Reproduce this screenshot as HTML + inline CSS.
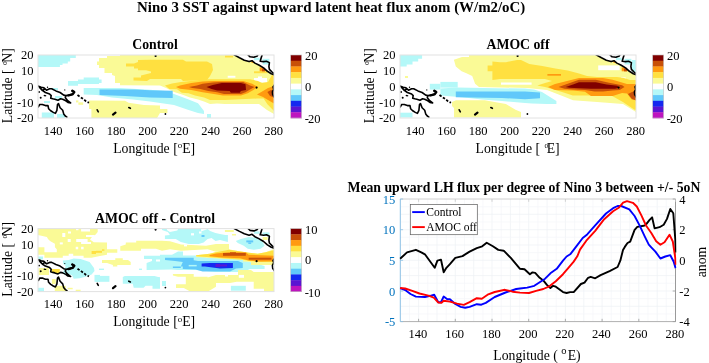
<!DOCTYPE html><html><head><meta charset="utf-8"><title>Nino 3 SST against upward latent heat flux</title><style>html,body{margin:0;padding:0;background:#fff}svg{display:block}text{font-family:'Liberation Serif',serif}</style></head><body><svg width="709" height="363" viewBox="0 0 709 363"><rect width="709" height="363" fill="#fff"/><text x="331.2" y="12.3" font-size="14.90" text-anchor="middle" font-weight="bold" fill="#000" >Nino 3 SST against upward latent heat flux anom (W/m2/oC)</text><g><svg x="38.0" y="55.0" width="236" height="63" viewBox="38.0 55.0 236 63" overflow="hidden"><polygon points="120.0,55.0 234.0,55.0 240.0,58.0 249.0,61.6 254.0,60.7 260.0,65.0 268.0,71.3 274.0,75.0 274.0,114.0 267.0,110.0 259.0,104.0 225.0,104.0 217.0,103.5 210.0,104.0 204.0,101.5 198.0,99.5 190.0,97.5 182.0,94.5 174.0,92.0 166.0,88.0 160.0,85.5 120.0,85.3 120.0,83.0 115.0,83.0 115.0,76.0 112.0,75.0 112.0,73.0 104.5,73.0 104.5,68.0 99.0,68.0 99.0,65.0 97.0,65.0 97.0,61.5 99.0,61.5 99.0,58.0 107.0,58.0 107.0,56.0 120.0,56.0" fill="#FAFA96"/><polygon points="89.0,100.4 125.0,100.8 128.6,102.8 144.0,105.0 160.0,105.5 160.0,109.0 167.4,109.0 167.4,113.0 160.0,113.0 157.0,118.0 91.4,118.0 91.4,109.0 89.0,109.0" fill="#FAFA96"/><rect x="76.0" y="100.4" width="2.4" height="2.0" fill="#FAFA96"/><rect x="78.4" y="102.4" width="4.8" height="2.4" fill="#FAFA96"/><rect x="227.7" y="75.8" width="7.7" height="1.9" fill="#fff"/><rect x="254.0" y="78.0" width="13.0" height="4.5" fill="#fff"/><rect x="258.0" y="76.5" width="4.0" height="1.5" fill="#fff"/><polygon points="126.0,63.5 134.0,63.5 138.0,62.0 138.0,60.0 150.0,59.7 183.0,59.7 186.0,61.6 207.0,61.6 212.0,64.0 213.0,70.0 210.0,76.0 207.0,80.0 183.0,81.0 181.0,79.0 150.0,79.0 147.0,81.0 133.5,80.5 133.5,77.5 141.0,77.5 141.0,75.5 147.0,74.0 151.0,73.0 151.0,71.5 146.0,70.3 138.0,70.3 138.0,68.4 134.0,68.4 134.0,66.5 126.0,66.5" fill="#FFE040"/><polygon points="165.0,85.5 172.0,83.5 181.0,82.0 195.0,80.5 205.0,79.3 250.0,79.3 258.0,81.0 262.0,83.0 268.0,82.0 272.0,75.0 274.0,75.0 274.0,111.0 267.4,104.3 263.6,98.5 257.0,98.5 225.0,100.0 210.0,100.0 204.0,97.5 195.0,95.6 188.6,93.2 181.8,92.7 177.0,89.3 169.3,88.9" fill="#FFE040"/><polygon points="176.0,87.0 180.0,85.4 191.3,83.1 202.6,81.4 213.9,80.9 243.2,80.9 252.2,83.7 257.9,87.1 253.4,89.9 247.7,93.3 240.9,95.6 222.9,95.6 213.9,93.9 202.6,92.2 191.3,89.9 180.0,88.8" fill="#FF9A10"/><polygon points="189.0,86.9 196.9,85.4 202.6,83.7 212.7,82.6 221.8,82.0 243.2,82.0 250.0,85.4 254.5,87.1 250.0,89.6 245.5,92.2 240.9,93.9 224.0,93.9 217.2,92.2 208.2,91.0 200.3,89.1 192.4,88.0" fill="#C85008"/><polygon points="206.5,87.1 212.7,85.1 221.8,83.1 240.9,83.1 245.5,84.3 246.0,89.9 240.9,91.0 239.8,92.7 230.8,92.7 229.7,91.0 217.2,90.5 211.6,89.1" fill="#800000"/><polygon points="257.0,94.6 263.0,91.0 268.0,88.0 274.0,86.0 274.0,103.5 268.0,100.0 263.0,97.0" fill="#FF9A10"/><polygon points="267.4,92.0 271.0,90.0 274.0,90.0 274.0,97.5 270.0,96.0" fill="#C85008"/><rect x="251.5" y="60.7" width="2.5" height="2.3" fill="#FF9A10"/><rect x="254.0" y="71.3" width="13.4" height="1.9" fill="#FFE040"/><rect x="259.7" y="67.4" width="5.8" height="3.9" fill="#FF9A10"/><rect x="262.0" y="68.5" width="3.0" height="2.8" fill="#C85008"/><polygon points="234.0,55.0 234.2,54.9 239.5,57.8 244.3,60.2 249.1,61.6 252.0,60.7 254.9,63.1 258.8,65.0 263.6,67.9 267.4,71.3 271.3,73.7 274.2,74.7 274.0,55.0" fill="#fff"/><rect x="254.0" y="57.8" width="5.7" height="2.4" fill="#B4F8F8"/><rect x="262.6" y="58.8" width="6.8" height="5.7" fill="#B4F8F8"/><polygon points="38.0,55.0 75.8,55.0 75.8,58.0 70.2,58.0 70.2,61.6 67.8,61.6 67.8,63.6 62.5,63.6 62.5,65.0 59.9,65.0 59.9,67.0 38.0,67.0" fill="#B4F8F8"/><polygon points="68.0,81.0 78.0,81.0 78.0,79.5 83.7,79.5 83.7,77.5 99.0,77.5 99.0,79.5 101.6,79.5 101.6,83.0 99.0,83.0 99.0,84.0 83.7,84.0 78.0,84.0 78.0,85.8 68.0,85.8" fill="#B4F8F8"/><polygon points="83.7,88.0 120.0,87.9 150.0,89.8 165.0,91.0 174.0,94.0 188.6,99.5 198.0,103.3 204.0,111.0 204.0,114.0 198.0,113.0 188.6,110.0 174.0,105.0 150.0,101.4 133.0,99.5 112.0,97.5 97.0,95.0 83.7,94.6" fill="#B4F8F8"/><polygon points="99.5,89.6 135.0,89.6 150.0,90.3 172.7,90.8 172.7,98.0 150.0,97.5 125.0,96.0 99.5,95.0" fill="#60C8FA"/><rect x="225.0" y="55.5" width="8.0" height="2.0" fill="#FFE040"/><rect x="207.0" y="114.0" width="4.0" height="4.0" fill="#B4F8F8"/><rect x="41.8" y="112.5" width="12.2" height="5.5" fill="#B4F8F8"/><rect x="57.0" y="114.0" width="8.0" height="4.0" fill="#B4F8F8"/><rect x="52.0" y="88.0" width="6.0" height="2.0" fill="#B4F8F8"/><rect x="44.0" y="101.0" width="6.0" height="2.0" fill="#B4F8F8"/><rect x="55.0" y="96.0" width="7.0" height="2.5" fill="#B4F8F8"/><polyline points="38.6,86.2 41.2,87.2 43.9,87.8 46.5,90.2 49.6,88.8 51.7,88.8 55.9,90.9 60.1,92.5 63.7,95.1 65.8,95.6 69.5,95.1 72.6,94.0 74.2,91.9 72.1,90.9 74.2,91.9 72.6,94.0 69.5,95.3 65.8,95.8 65.3,97.7 67.4,100.3 70.6,102.9 67.9,102.4 65.8,100.8 62.7,99.3 60.6,98.8 58.0,100.3 54.8,99.3 52.8,98.8 50.7,98.2 51.2,95.6 49.6,94.0 45.4,92.5 42.3,90.4 40.7,88.8 38.6,86.2 42.3,90.4 44.4,89.3 43.9,87.8" fill="none" stroke="#000" stroke-width="1.6" stroke-linejoin="round" stroke-linecap="round"/><polyline points="38.3,106.9 39.7,104.5 42.3,104.5 45.4,105.6 48.0,105.6 48.6,108.7 50.7,110.8 53.3,112.4 55.4,113.4 56.9,110.3 57.5,104.5 58.5,103.5 60.1,107.7 62.7,110.3 63.7,113.9 65.3,116.0 66.9,117.1" fill="none" stroke="#000" stroke-width="1.6" stroke-linejoin="round" stroke-linecap="round"/><polyline points="234.2,54.9 239.5,57.8 244.3,60.2 249.1,61.6 252.0,60.7 254.9,63.1 258.8,65.0 263.6,67.9 267.4,71.3 271.3,73.7 274.2,74.7" fill="none" stroke="#000" stroke-width="1.6" stroke-linejoin="round" stroke-linecap="round"/><polyline points="248.1,54.9 250.1,56.8 253.9,57.3 257.3,55.9 257.8,54.9" fill="none" stroke="#000" stroke-width="1.6" stroke-linejoin="round" stroke-linecap="round"/><polyline points="262.1,54.9 261.2,57.8 260.2,61.2 263.6,61.6 266.5,61.2 269.4,62.6 268.9,66.5 269.4,69.4 272.3,72.3 274.2,73.7" fill="none" stroke="#000" stroke-width="1.6" stroke-linejoin="round" stroke-linecap="round"/><polyline points="274.4,85.0 273.0,86.9 273.7,89.3 272.4,91.8 272.7,94.6 274.4,97.3" fill="none" stroke="#000" stroke-width="1.6" stroke-linejoin="round" stroke-linecap="round"/><polyline points="77.5,95.1 80.4,97.1 83.3,99.0 86.1,101.4 89.0,102.8" fill="none" stroke="#000" stroke-width="1.8" stroke-linejoin="round" stroke-dasharray="2.5 1.6"/><polyline points="68.5,95.4 72.6,94.3 74.3,92.1 72.3,90.8" fill="none" stroke="#000" stroke-width="2.4" stroke-linejoin="round" stroke-linecap="round"/><circle cx="155.6" cy="56.0" r="1.1" fill="#000"/><circle cx="165.4" cy="114.0" r="0.9" fill="#000"/><circle cx="256.6" cy="87.6" r="1.1" fill="#000"/><circle cx="40.7" cy="97.7" r="1.0" fill="#000"/><circle cx="44.4" cy="95.6" r="0.8" fill="#000"/><circle cx="45.6" cy="95.8" r="0.7" fill="#000"/><circle cx="64.8" cy="89.9" r="0.6" fill="#000"/><circle cx="39.1" cy="92.0" r="0.9" fill="#000"/><circle cx="47.5" cy="87.2" r="0.7" fill="#000"/><polyline points="113.0,114.6 115.5,112.6" fill="none" stroke="#000" stroke-width="2.2" stroke-linejoin="round" stroke-linecap="round"/><polyline points="97.2,109.8 98.3,111.8" fill="none" stroke="#000" stroke-width="1.6" stroke-linejoin="round" stroke-linecap="round"/><polyline points="128.8,107.6 130.4,108.3" fill="none" stroke="#000" stroke-width="1.6" stroke-linejoin="round" stroke-linecap="round"/></svg><rect x="38.0" y="55.0" width="236.0" height="63.0" fill="none" stroke="#e2e2e2" stroke-width="1"/><text x="155.0" y="49.0" font-size="13.75" text-anchor="middle" font-weight="bold" fill="#000" >Control</text><text x="33.6" y="59.3" font-size="12.50" text-anchor="end" font-weight="normal" fill="#000" >20</text><text x="33.6" y="75.0" font-size="12.50" text-anchor="end" font-weight="normal" fill="#000" >10</text><text x="33.6" y="90.8" font-size="12.50" text-anchor="end" font-weight="normal" fill="#000" >0</text><text x="33.6" y="106.5" font-size="12.50" text-anchor="end" font-weight="normal" fill="#000" >-10</text><text x="33.6" y="122.3" font-size="12.50" text-anchor="end" font-weight="normal" fill="#000" >-20</text><text x="53.2" y="134.6" font-size="12.50" text-anchor="middle" font-weight="normal" fill="#000" >140</text><text x="84.7" y="134.6" font-size="12.50" text-anchor="middle" font-weight="normal" fill="#000" >160</text><text x="116.2" y="134.6" font-size="12.50" text-anchor="middle" font-weight="normal" fill="#000" >180</text><text x="147.6" y="134.6" font-size="12.50" text-anchor="middle" font-weight="normal" fill="#000" >200</text><text x="179.1" y="134.6" font-size="12.50" text-anchor="middle" font-weight="normal" fill="#000" >220</text><text x="210.6" y="134.6" font-size="12.50" text-anchor="middle" font-weight="normal" fill="#000" >240</text><text x="242.0" y="134.6" font-size="12.50" text-anchor="middle" font-weight="normal" fill="#000" >260</text><text x="273.5" y="134.6" font-size="12.50" text-anchor="middle" font-weight="normal" fill="#000" >280</text><text x="154.2" y="152.6" font-size="13.75" text-anchor="middle" font-weight="normal" fill="#000" >Longitude [<tspan font-size="9" dy="-4.6">o</tspan><tspan dy="4.6">E]</tspan></text><text transform="translate(11.7,85.7) rotate(-90)" font-size="13.75" text-anchor="middle">Latitude [ <tspan font-size="7.5" dy="-5" dx="1">o</tspan><tspan dy="5" dx="-1.6">N]</tspan></text><rect x="290.7" y="55.00" width="11" height="6.03" fill="#800000"/><rect x="290.7" y="60.73" width="11" height="6.03" fill="#C85008"/><rect x="290.7" y="66.45" width="11" height="6.03" fill="#FF9A10"/><rect x="290.7" y="72.18" width="11" height="6.03" fill="#FFE040"/><rect x="290.7" y="77.91" width="11" height="6.03" fill="#FAFA96"/><rect x="290.7" y="83.64" width="11" height="6.03" fill="#FFFFFF"/><rect x="290.7" y="89.36" width="11" height="6.03" fill="#B4F8F8"/><rect x="290.7" y="95.09" width="11" height="6.03" fill="#60C8FA"/><rect x="290.7" y="100.82" width="11" height="6.03" fill="#1428F0"/><rect x="290.7" y="106.55" width="11" height="6.03" fill="#5A14D2"/><rect x="290.7" y="112.27" width="11" height="6.03" fill="#BE14BE"/><rect x="290.7" y="55.0" width="11" height="63" fill="none" stroke="#c4c4c4" stroke-width="0.6"/><text x="305.1" y="60.0" font-size="12.50" text-anchor="start" font-weight="normal" fill="#000" >20</text><text x="305.1" y="90.8" font-size="12.50" text-anchor="start" font-weight="normal" fill="#000" >0</text><text x="304.8" y="123.0" font-size="12.50" text-anchor="start" font-weight="normal" fill="#000" >-<tspan dx="-1">20</tspan></text></g><g><svg x="400.0" y="55.0" width="236" height="63" viewBox="38.0 55.0 236 63" overflow="hidden"><polygon points="107.0,55.0 234.0,55.0 240.0,58.0 249.0,61.6 254.0,60.7 260.0,65.0 268.0,71.3 274.0,75.0 274.0,112.0 261.0,104.0 235.0,102.0 211.0,100.2 203.0,97.0 194.0,93.4 185.0,90.0 165.0,88.0 117.0,87.0 113.1,83.8 110.2,76.1 104.4,73.2 99.6,71.3 93.8,66.5 91.9,59.7 100.0,57.0 107.0,57.0" fill="#FAFA96"/><polygon points="90.0,102.0 94.0,100.2 122.7,100.2 143.9,104.0 153.5,109.8 159.0,112.0 159.0,117.5 92.0,117.5 92.0,108.0 90.0,106.0" fill="#FAFA96"/><rect x="139.0" y="82.5" width="30.6" height="2.2" fill="#fff"/><rect x="236.2" y="65.4" width="21.5" height="4.8" fill="#fff"/><rect x="259.0" y="77.4" width="4.7" height="3.6" fill="#fff"/><polygon points="125.6,65.5 130.4,65.5 130.4,61.6 138.0,62.2 144.0,62.2 155.0,59.9 159.0,59.9 167.3,63.9 180.3,66.1 193.3,68.4 205.7,70.6 217.0,73.4 225.0,76.0 235.0,77.0 255.0,77.0 262.0,78.0 268.0,80.0 274.0,80.0 274.0,109.8 272.5,109.8 260.9,102.0 249.3,95.4 210.8,95.4 200.0,92.0 190.0,89.0 183.0,87.0 175.3,85.5 183.0,83.0 190.0,81.0 183.0,79.1 138.0,79.1 130.4,80.0 130.4,71.3 125.6,71.3" fill="#FFE040"/><polygon points="186.0,87.0 193.0,84.0 205.0,81.0 217.0,78.0 241.0,78.0 250.6,79.8 265.0,84.0 274.5,84.0 274.5,99.6 269.7,99.6 265.0,93.6 260.1,93.0 250.6,96.0 229.0,96.0 223.0,91.8 211.0,90.6 193.0,90.0" fill="#FF9A10"/><polygon points="196.6,87.0 205.0,84.0 217.0,79.8 233.8,79.8 247.0,82.8 260.1,85.2 262.5,87.0 257.7,90.0 250.6,90.6 241.0,91.4 232.6,91.4 223.0,90.0 211.0,89.4 202.6,88.8" fill="#C85008"/><polygon points="203.8,87.0 211.0,84.6 217.0,82.2 233.8,82.2 244.6,84.6 255.4,85.8 257.1,87.8 253.0,88.8 229.0,88.8 217.0,88.2 207.4,87.8" fill="#800000"/><polygon points="266.0,94.0 270.0,92.0 274.5,91.0 274.5,100.8 270.0,99.0" fill="#C85008"/><rect x="185.4" y="74.0" width="13.6" height="1.7" fill="#FF9A10"/><rect x="251.5" y="60.7" width="2.5" height="2.3" fill="#FF9A10"/><rect x="259.7" y="67.4" width="5.8" height="3.9" fill="#FF9A10"/><rect x="262.0" y="68.5" width="3.0" height="2.8" fill="#C85008"/><polygon points="234.0,55.0 234.2,54.9 239.5,57.8 244.3,60.2 249.1,61.6 252.0,60.7 254.9,63.1 258.8,65.0 263.6,67.9 267.4,71.3 271.3,73.7 274.2,74.7 274.0,55.0" fill="#fff"/><rect x="254.0" y="57.8" width="5.7" height="2.4" fill="#B4F8F8"/><rect x="262.6" y="58.8" width="6.8" height="5.7" fill="#B4F8F8"/><rect x="270.0" y="60.0" width="4.0" height="12.0" fill="#B4F8F8"/><polygon points="38.0,55.0 60.1,55.0 60.1,58.7 56.2,58.7 56.2,61.6 50.5,61.6 50.5,64.5 44.7,64.5 44.7,66.5 38.0,66.5" fill="#B4F8F8"/><rect x="38.0" y="112.7" width="12.5" height="4.8" fill="#B4F8F8"/><rect x="67.8" y="83.8" width="10.6" height="5.8" fill="#B4F8F8"/><rect x="78.4" y="81.9" width="17.3" height="5.7" fill="#B4F8F8"/><polygon points="78.4,88.6 95.0,87.6 163.0,88.6 172.0,89.6 180.0,92.0 188.0,97.0 194.4,101.0 194.4,104.0 185.0,104.0 170.0,103.5 163.0,103.0 140.0,101.0 120.0,99.5 100.0,97.3 78.4,95.4" fill="#B4F8F8"/><polygon points="93.8,91.5 163.0,91.5 178.0,92.5 178.0,98.2 163.0,99.2 140.0,98.0 93.8,97.3" fill="#60C8FA"/><rect x="43.0" y="76.0" width="3.0" height="2.0" fill="#FAFA96"/><polyline points="38.6,86.2 41.2,87.2 43.9,87.8 46.5,90.2 49.6,88.8 51.7,88.8 55.9,90.9 60.1,92.5 63.7,95.1 65.8,95.6 69.5,95.1 72.6,94.0 74.2,91.9 72.1,90.9 74.2,91.9 72.6,94.0 69.5,95.3 65.8,95.8 65.3,97.7 67.4,100.3 70.6,102.9 67.9,102.4 65.8,100.8 62.7,99.3 60.6,98.8 58.0,100.3 54.8,99.3 52.8,98.8 50.7,98.2 51.2,95.6 49.6,94.0 45.4,92.5 42.3,90.4 40.7,88.8 38.6,86.2 42.3,90.4 44.4,89.3 43.9,87.8" fill="none" stroke="#000" stroke-width="1.6" stroke-linejoin="round" stroke-linecap="round"/><polyline points="38.3,106.9 39.7,104.5 42.3,104.5 45.4,105.6 48.0,105.6 48.6,108.7 50.7,110.8 53.3,112.4 55.4,113.4 56.9,110.3 57.5,104.5 58.5,103.5 60.1,107.7 62.7,110.3 63.7,113.9 65.3,116.0 66.9,117.1" fill="none" stroke="#000" stroke-width="1.6" stroke-linejoin="round" stroke-linecap="round"/><polyline points="234.2,54.9 239.5,57.8 244.3,60.2 249.1,61.6 252.0,60.7 254.9,63.1 258.8,65.0 263.6,67.9 267.4,71.3 271.3,73.7 274.2,74.7" fill="none" stroke="#000" stroke-width="1.6" stroke-linejoin="round" stroke-linecap="round"/><polyline points="248.1,54.9 250.1,56.8 253.9,57.3 257.3,55.9 257.8,54.9" fill="none" stroke="#000" stroke-width="1.6" stroke-linejoin="round" stroke-linecap="round"/><polyline points="262.1,54.9 261.2,57.8 260.2,61.2 263.6,61.6 266.5,61.2 269.4,62.6 268.9,66.5 269.4,69.4 272.3,72.3 274.2,73.7" fill="none" stroke="#000" stroke-width="1.6" stroke-linejoin="round" stroke-linecap="round"/><polyline points="274.4,85.0 273.0,86.9 273.7,89.3 272.4,91.8 272.7,94.6 274.4,97.3" fill="none" stroke="#000" stroke-width="1.6" stroke-linejoin="round" stroke-linecap="round"/><polyline points="77.5,95.1 80.4,97.1 83.3,99.0 86.1,101.4 89.0,102.8" fill="none" stroke="#000" stroke-width="1.8" stroke-linejoin="round" stroke-dasharray="2.5 1.6"/><polyline points="68.5,95.4 72.6,94.3 74.3,92.1 72.3,90.8" fill="none" stroke="#000" stroke-width="2.4" stroke-linejoin="round" stroke-linecap="round"/><circle cx="155.6" cy="56.0" r="1.1" fill="#000"/><circle cx="165.4" cy="114.0" r="0.9" fill="#000"/><circle cx="256.6" cy="87.6" r="1.1" fill="#000"/><circle cx="40.7" cy="97.7" r="1.0" fill="#000"/><circle cx="44.4" cy="95.6" r="0.8" fill="#000"/><circle cx="45.6" cy="95.8" r="0.7" fill="#000"/><circle cx="64.8" cy="89.9" r="0.6" fill="#000"/><circle cx="39.1" cy="92.0" r="0.9" fill="#000"/><circle cx="47.5" cy="87.2" r="0.7" fill="#000"/><polyline points="113.0,114.6 115.5,112.6" fill="none" stroke="#000" stroke-width="2.2" stroke-linejoin="round" stroke-linecap="round"/><polyline points="97.2,109.8 98.3,111.8" fill="none" stroke="#000" stroke-width="1.6" stroke-linejoin="round" stroke-linecap="round"/><polyline points="128.8,107.6 130.4,108.3" fill="none" stroke="#000" stroke-width="1.6" stroke-linejoin="round" stroke-linecap="round"/></svg><rect x="400.0" y="55.0" width="236.0" height="63.0" fill="none" stroke="#e2e2e2" stroke-width="1"/><text x="518.0" y="49.0" font-size="13.75" text-anchor="middle" font-weight="bold" fill="#000" >AMOC off</text><text x="395.6" y="59.3" font-size="12.50" text-anchor="end" font-weight="normal" fill="#000" >20</text><text x="395.6" y="75.0" font-size="12.50" text-anchor="end" font-weight="normal" fill="#000" >10</text><text x="395.6" y="90.8" font-size="12.50" text-anchor="end" font-weight="normal" fill="#000" >0</text><text x="395.6" y="106.5" font-size="12.50" text-anchor="end" font-weight="normal" fill="#000" >-10</text><text x="395.6" y="122.3" font-size="12.50" text-anchor="end" font-weight="normal" fill="#000" >-20</text><text x="415.2" y="134.6" font-size="12.50" text-anchor="middle" font-weight="normal" fill="#000" >140</text><text x="446.7" y="134.6" font-size="12.50" text-anchor="middle" font-weight="normal" fill="#000" >160</text><text x="478.2" y="134.6" font-size="12.50" text-anchor="middle" font-weight="normal" fill="#000" >180</text><text x="509.6" y="134.6" font-size="12.50" text-anchor="middle" font-weight="normal" fill="#000" >200</text><text x="541.1" y="134.6" font-size="12.50" text-anchor="middle" font-weight="normal" fill="#000" >220</text><text x="572.6" y="134.6" font-size="12.50" text-anchor="middle" font-weight="normal" fill="#000" >240</text><text x="604.0" y="134.6" font-size="12.50" text-anchor="middle" font-weight="normal" fill="#000" >260</text><text x="635.5" y="134.6" font-size="12.50" text-anchor="middle" font-weight="normal" fill="#000" >280</text><text x="517.6" y="152.6" font-size="13.75" text-anchor="middle" font-weight="normal" fill="#000" >Longitude [ <tspan font-size="7.5" dy="-5" dx="1">o</tspan><tspan dy="5" dx="-1.6">E]</tspan></text><text transform="translate(373.7,85.7) rotate(-90)" font-size="13.75" text-anchor="middle">Latitude [ <tspan font-size="7.5" dy="-5" dx="1">o</tspan><tspan dy="5" dx="-1.6">N]</tspan></text><rect x="652.7" y="55.00" width="11" height="6.03" fill="#800000"/><rect x="652.7" y="60.73" width="11" height="6.03" fill="#C85008"/><rect x="652.7" y="66.45" width="11" height="6.03" fill="#FF9A10"/><rect x="652.7" y="72.18" width="11" height="6.03" fill="#FFE040"/><rect x="652.7" y="77.91" width="11" height="6.03" fill="#FAFA96"/><rect x="652.7" y="83.64" width="11" height="6.03" fill="#FFFFFF"/><rect x="652.7" y="89.36" width="11" height="6.03" fill="#B4F8F8"/><rect x="652.7" y="95.09" width="11" height="6.03" fill="#60C8FA"/><rect x="652.7" y="100.82" width="11" height="6.03" fill="#1428F0"/><rect x="652.7" y="106.55" width="11" height="6.03" fill="#5A14D2"/><rect x="652.7" y="112.27" width="11" height="6.03" fill="#BE14BE"/><rect x="652.7" y="55.0" width="11" height="63" fill="none" stroke="#c4c4c4" stroke-width="0.6"/><text x="667.1" y="60.0" font-size="12.50" text-anchor="start" font-weight="normal" fill="#000" >20</text><text x="667.1" y="90.8" font-size="12.50" text-anchor="start" font-weight="normal" fill="#000" >0</text><text x="666.8" y="123.0" font-size="12.50" text-anchor="start" font-weight="normal" fill="#000" >-<tspan dx="-1">20</tspan></text></g><g><svg x="38.0" y="228.6" width="236" height="63" viewBox="38.0 228.6 236 63" overflow="hidden"><polygon points="38.0,228.6 97.7,228.6 97.7,232.0 95.7,234.6 92.0,237.0 90.0,239.5 93.8,242.3 107.0,242.4 107.0,249.3 117.3,249.3 117.3,252.8 107.0,252.8 107.0,254.8 100.0,256.0 91.5,257.7 83.6,257.7 83.6,255.8 73.2,255.8 73.2,253.8 68.7,253.8 68.7,255.8 62.8,255.8 62.8,257.7 44.4,257.7 44.4,254.8 38.0,254.8 38.0,247.3 44.4,247.3 44.4,252.3 56.8,252.3 56.8,249.3 54.9,247.3 54.9,243.8 50.0,240.9 48.0,238.9 46.9,236.9 38.0,234.9" fill="#FAFA96"/><rect x="62.3" y="233.0" width="3.0" height="4.0" fill="#fff"/><rect x="67.7" y="239.0" width="3.0" height="3.0" fill="#fff"/><rect x="59.8" y="242.4" width="3.0" height="2.0" fill="#fff"/><rect x="76.2" y="239.0" width="11.4" height="3.0" fill="#fff"/><rect x="81.1" y="242.0" width="9.9" height="2.0" fill="#fff"/><rect x="75.7" y="246.8" width="2.5" height="2.5" fill="#fff"/><rect x="81.1" y="246.8" width="2.5" height="2.5" fill="#fff"/><rect x="86.0" y="235.0" width="8.5" height="2.0" fill="#fff"/><rect x="81.1" y="228.6" width="8.9" height="2.9" fill="#fff"/><rect x="68.0" y="231.5" width="3.0" height="2.0" fill="#fff"/><rect x="76.0" y="228.6" width="2.5" height="1.6" fill="#fff"/><rect x="96.0" y="250.8" width="6.0" height="2.0" fill="#FFE040"/><rect x="91.6" y="251.0" width="4.4" height="3.0" fill="#FFE040"/><rect x="102.0" y="249.3" width="2.4" height="1.5" fill="#FFE040"/><polygon points="120.3,246.3 125.8,244.4 125.8,242.4 136.2,242.4 136.2,240.7 162.0,240.7 170.0,241.2 181.0,244.4 206.0,245.8 216.0,243.9 229.0,243.9 229.0,251.8 216.0,251.8 207.6,249.3 181.0,250.8 170.0,249.3 162.0,250.8 156.0,248.8 141.0,248.8 141.0,250.8 120.3,250.8" fill="#FAFA96"/><rect x="184.0" y="244.4" width="3.0" height="2.0" fill="#fff"/><polygon points="102.0,260.0 115.3,260.0 115.3,258.3 122.8,258.3 122.8,260.0 128.0,260.0 130.7,262.0 130.7,265.0 117.3,265.0 117.3,266.4 112.9,266.4 112.9,265.0 107.0,263.0 102.0,263.0" fill="#FAFA96"/><polygon points="62.8,260.5 68.7,260.0 73.7,258.5 80.6,259.0 89.6,262.0 94.0,267.9 94.5,270.9 91.6,274.4 85.6,276.8 79.7,278.3 73.7,278.8 72.2,275.4 68.7,273.9 64.8,274.9 62.8,272.9 64.3,268.9 65.8,265.9 63.3,264.0" fill="#B4F8F8"/><rect x="94.5" y="274.9" width="5.5" height="6.9" fill="#B4F8F8"/><rect x="96.0" y="275.9" width="13.4" height="5.9" fill="#B4F8F8"/><rect x="99.0" y="268.6" width="5.0" height="1.4" fill="#B4F8F8"/><rect x="38.0" y="256.5" width="5.0" height="3.0" fill="#B4F8F8"/><rect x="38.0" y="288.0" width="6.0" height="3.6" fill="#B4F8F8"/><rect x="139.0" y="268.6" width="3.0" height="1.4" fill="#B4F8F8"/><polygon points="122.8,277.0 124.8,275.9 154.5,275.9 160.0,277.5 160.0,288.8 152.5,288.8 152.5,285.8 145.6,285.8 143.6,287.8 133.7,287.8 132.7,283.8 122.8,283.8" fill="#B4F8F8"/><polygon points="144.0,255.8 160.0,255.8 160.0,254.8 172.0,254.8 178.0,251.5 183.0,251.5 183.0,255.5 196.0,255.5 210.0,258.0 235.0,258.0 250.0,262.0 264.6,266.0 264.6,269.0 250.0,269.0 243.0,272.0 235.8,272.0 216.0,272.0 196.0,270.0 178.0,270.0 171.0,269.5 146.6,270.0 146.6,263.0 152.0,261.0 152.0,259.0 144.0,259.0" fill="#B4F8F8"/><rect x="156.0" y="259.5" width="4.0" height="2.0" fill="#fff"/><polygon points="162.0,228.5 166.9,228.5 166.9,230.0 169.9,232.0 177.3,230.5 178.3,228.5 201.1,228.5 201.1,231.5 207.6,229.0 210.1,231.0 215.5,232.9 220.0,233.9 225.4,234.9 227.9,234.9 227.9,241.9 220.0,239.9 215.5,240.9 211.6,237.9 207.6,238.9 203.6,242.4 198.7,243.9 188.7,243.9 180.8,241.9 175.8,238.9 164.9,238.9 164.9,235.4 169.9,234.9 167.9,232.0 162.0,230.0" fill="#B4F8F8"/><rect x="191.0" y="233.2" width="3.0" height="2.2" fill="#fff"/><rect x="199.0" y="231.5" width="2.5" height="2.0" fill="#fff"/><rect x="201.5" y="235.0" width="3.0" height="2.0" fill="#60C8FA"/><polygon points="235.8,240.9 240.8,238.9 248.7,236.9 257.7,237.9 262.6,241.9 264.6,245.8 260.6,248.8 253.7,249.8 247.7,248.8 243.8,245.8 237.8,242.9" fill="#B4F8F8"/><rect x="246.3" y="240.4" width="6.9" height="2.0" fill="#60C8FA"/><rect x="248.3" y="242.4" width="2.9" height="1.5" fill="#60C8FA"/><polygon points="172.9,273.9 193.7,273.9 193.7,276.8 207.6,276.8 207.6,277.5 216.0,274.9 238.0,274.9 238.0,270.0 251.0,270.0 253.7,272.0 274.5,272.0 274.5,291.7 264.0,291.7 264.0,288.8 253.7,288.8 253.7,281.8 236.7,281.8 230.0,283.0 216.0,283.0 216.0,286.8 207.6,291.7 190.7,291.7 183.8,288.0 176.0,288.0 176.0,284.3 185.8,284.3 185.8,276.8 178.0,276.8 172.9,275.5" fill="#FAFA96"/><rect x="238.8" y="274.9" width="5.2" height="2.9" fill="#fff"/><rect x="225.0" y="274.9" width="3.0" height="1.6" fill="#fff"/><rect x="230.9" y="285.8" width="14.9" height="4.9" fill="#B4F8F8"/><rect x="156.0" y="277.3" width="4.0" height="5.7" fill="#B4F8F8"/><rect x="162.0" y="281.0" width="4.0" height="5.0" fill="#B4F8F8"/><rect x="212.0" y="277.3" width="8.0" height="3.2" fill="#FAFA96"/><polygon points="165.0,257.7 193.7,257.7 193.7,260.2 198.0,261.0 238.0,261.0 242.8,263.0 242.8,268.0 236.0,268.5 230.0,271.4 202.6,271.4 195.7,269.4 182.8,269.0 182.8,266.4 172.9,266.4 172.9,267.9 180.8,267.9 180.8,266.4 182.8,262.0 175.0,261.0 165.0,260.0" fill="#60C8FA"/><rect x="188.7" y="264.9" width="8.0" height="1.5" fill="#B4F8F8"/><polygon points="201.6,263.5 210.0,263.0 232.9,263.0 232.9,268.0 220.0,268.4 205.0,266.4 201.6,266.4" fill="#1428F0"/><rect x="215.5" y="264.0" width="4.5" height="3.0" fill="#5A14D2"/><rect x="220.0" y="264.5" width="7.0" height="1.9" fill="#5A14D2"/><polygon points="196.0,255.3 209.6,253.8 216.0,252.0 229.0,249.3 236.0,250.8 249.0,252.8 257.7,253.8 265.6,252.3 274.5,248.8 274.5,265.0 251.0,265.0 251.0,262.0 243.0,261.5 243.0,259.7 225.0,259.0 210.0,258.0 196.0,257.0" fill="#FAFA96"/><polygon points="196.2,255.3 209.6,253.8 216.0,252.3 229.0,249.8 236.0,250.8 249.0,252.8 257.7,253.8 265.6,252.3 274.5,250.0 274.5,262.0 262.0,262.0 250.0,261.0 243.0,259.7 225.0,258.5 210.0,257.3 196.2,256.3" fill="#FFE040"/><polygon points="209.6,255.0 216.0,253.5 229.0,252.3 245.8,252.3 248.7,254.8 274.5,255.8 274.5,261.2 260.0,261.5 248.7,260.5 240.0,258.3 222.0,257.5 209.6,256.2" fill="#FF9A10"/><rect x="223.0" y="253.0" width="22.8" height="2.8" fill="#C85008"/><rect x="230.0" y="252.3" width="6.0" height="0.7" fill="#C85008"/><rect x="248.7" y="257.7" width="22.8" height="2.0" fill="#C85008"/><rect x="38.5" y="268.0" width="10.5" height="7.0" fill="#FAFA96"/><rect x="54.8" y="285.8" width="11.0" height="5.9" fill="#FAFA96"/><rect x="51.9" y="279.0" width="3.9" height="5.0" fill="#FAFA96"/><rect x="75.7" y="289.7" width="4.9" height="1.9" fill="#FAFA96"/><rect x="67.7" y="287.8" width="5.0" height="1.5" fill="#FAFA96"/><rect x="51.9" y="269.0" width="7.9" height="4.0" fill="#FFE040"/><rect x="38.5" y="287.8" width="5.5" height="3.9" fill="#B4F8F8"/><polygon points="234.0,228.6 234.2,228.5 239.5,231.4 244.3,233.8 249.1,235.2 252.0,234.3 254.9,236.7 258.8,238.6 263.6,241.5 267.4,244.9 271.3,247.3 274.2,248.3 274.5,228.6" fill="#fff"/><rect x="224.9" y="230.0" width="8.9" height="2.0" fill="#FAFA96"/><rect x="232.0" y="234.0" width="4.0" height="1.5" fill="#FAFA96"/><rect x="262.6" y="237.0" width="5.0" height="3.0" fill="#FAFA96"/><rect x="254.0" y="231.4" width="5.7" height="2.4" fill="#B4F8F8"/><rect x="262.6" y="232.4" width="6.8" height="3.6" fill="#B4F8F8"/><polyline points="38.6,259.8 41.2,260.8 43.9,261.4 46.5,263.8 49.6,262.4 51.7,262.4 55.9,264.5 60.1,266.1 63.7,268.7 65.8,269.2 69.5,268.7 72.6,267.6 74.2,265.5 72.1,264.5 74.2,265.5 72.6,267.6 69.5,268.9 65.8,269.4 65.3,271.3 67.4,273.9 70.6,276.5 67.9,276.0 65.8,274.4 62.7,272.9 60.6,272.4 58.0,273.9 54.8,272.9 52.8,272.4 50.7,271.8 51.2,269.2 49.6,267.6 45.4,266.1 42.3,264.0 40.7,262.4 38.6,259.8 42.3,264.0 44.4,262.9 43.9,261.4" fill="none" stroke="#000" stroke-width="1.6" stroke-linejoin="round" stroke-linecap="round"/><polyline points="38.3,280.5 39.7,278.1 42.3,278.1 45.4,279.2 48.0,279.2 48.6,282.3 50.7,284.4 53.3,286.0 55.4,287.0 56.9,283.9 57.5,278.1 58.5,277.1 60.1,281.3 62.7,283.9 63.7,287.5 65.3,289.6 66.9,290.7" fill="none" stroke="#000" stroke-width="1.6" stroke-linejoin="round" stroke-linecap="round"/><polyline points="234.2,228.5 239.5,231.4 244.3,233.8 249.1,235.2 252.0,234.3 254.9,236.7 258.8,238.6 263.6,241.5 267.4,244.9 271.3,247.3 274.2,248.3" fill="none" stroke="#000" stroke-width="1.6" stroke-linejoin="round" stroke-linecap="round"/><polyline points="248.1,228.5 250.1,230.4 253.9,230.9 257.3,229.5 257.8,228.5" fill="none" stroke="#000" stroke-width="1.6" stroke-linejoin="round" stroke-linecap="round"/><polyline points="262.1,228.5 261.2,231.4 260.2,234.8 263.6,235.2 266.5,234.8 269.4,236.2 268.9,240.1 269.4,243.0 272.3,245.9 274.2,247.3" fill="none" stroke="#000" stroke-width="1.6" stroke-linejoin="round" stroke-linecap="round"/><polyline points="274.4,258.6 273.0,260.5 273.7,262.9 272.4,265.4 272.7,268.2 274.4,270.9" fill="none" stroke="#000" stroke-width="1.6" stroke-linejoin="round" stroke-linecap="round"/><polyline points="77.5,268.7 80.4,270.7 83.3,272.6 86.1,275.0 89.0,276.4" fill="none" stroke="#000" stroke-width="1.8" stroke-linejoin="round" stroke-dasharray="2.5 1.6"/><polyline points="68.5,269.0 72.6,267.9 74.3,265.7 72.3,264.4" fill="none" stroke="#000" stroke-width="2.4" stroke-linejoin="round" stroke-linecap="round"/><circle cx="155.6" cy="229.6" r="1.1" fill="#000"/><circle cx="165.4" cy="287.6" r="0.9" fill="#000"/><circle cx="256.6" cy="261.2" r="1.1" fill="#000"/><circle cx="40.7" cy="271.3" r="1.0" fill="#000"/><circle cx="44.4" cy="269.2" r="0.8" fill="#000"/><circle cx="45.6" cy="269.4" r="0.7" fill="#000"/><circle cx="64.8" cy="263.5" r="0.6" fill="#000"/><circle cx="39.1" cy="265.6" r="0.9" fill="#000"/><circle cx="47.5" cy="260.8" r="0.7" fill="#000"/><polyline points="113.0,288.2 115.5,286.2" fill="none" stroke="#000" stroke-width="2.2" stroke-linejoin="round" stroke-linecap="round"/><polyline points="97.2,283.4 98.3,285.4" fill="none" stroke="#000" stroke-width="1.6" stroke-linejoin="round" stroke-linecap="round"/><polyline points="128.8,281.2 130.4,281.9" fill="none" stroke="#000" stroke-width="1.6" stroke-linejoin="round" stroke-linecap="round"/></svg><rect x="38.0" y="228.6" width="236.0" height="63.0" fill="none" stroke="#e2e2e2" stroke-width="1"/><text x="155.0" y="222.6" font-size="13.75" text-anchor="middle" font-weight="bold" fill="#000" >AMOC off - Control</text><text x="33.6" y="232.9" font-size="12.50" text-anchor="end" font-weight="normal" fill="#000" >20</text><text x="33.6" y="248.7" font-size="12.50" text-anchor="end" font-weight="normal" fill="#000" >10</text><text x="33.6" y="264.4" font-size="12.50" text-anchor="end" font-weight="normal" fill="#000" >0</text><text x="33.6" y="280.2" font-size="12.50" text-anchor="end" font-weight="normal" fill="#000" >-10</text><text x="33.6" y="295.9" font-size="12.50" text-anchor="end" font-weight="normal" fill="#000" >-20</text><text x="53.2" y="308.2" font-size="12.50" text-anchor="middle" font-weight="normal" fill="#000" >140</text><text x="84.7" y="308.2" font-size="12.50" text-anchor="middle" font-weight="normal" fill="#000" >160</text><text x="116.2" y="308.2" font-size="12.50" text-anchor="middle" font-weight="normal" fill="#000" >180</text><text x="147.6" y="308.2" font-size="12.50" text-anchor="middle" font-weight="normal" fill="#000" >200</text><text x="179.1" y="308.2" font-size="12.50" text-anchor="middle" font-weight="normal" fill="#000" >220</text><text x="210.6" y="308.2" font-size="12.50" text-anchor="middle" font-weight="normal" fill="#000" >240</text><text x="242.0" y="308.2" font-size="12.50" text-anchor="middle" font-weight="normal" fill="#000" >260</text><text x="273.5" y="308.2" font-size="12.50" text-anchor="middle" font-weight="normal" fill="#000" >280</text><text x="154.2" y="326.2" font-size="13.75" text-anchor="middle" font-weight="normal" fill="#000" >Longitude [<tspan font-size="9" dy="-4.6">o</tspan><tspan dy="4.6">E]</tspan></text><text transform="translate(11.7,259.3) rotate(-90)" font-size="13.75" text-anchor="middle">Latitude [ <tspan font-size="7.5" dy="-5" dx="1">o</tspan><tspan dy="5" dx="-1.6">N]</tspan></text><rect x="290.7" y="228.60" width="11" height="6.03" fill="#800000"/><rect x="290.7" y="234.33" width="11" height="6.03" fill="#C85008"/><rect x="290.7" y="240.05" width="11" height="6.03" fill="#FF9A10"/><rect x="290.7" y="245.78" width="11" height="6.03" fill="#FFE040"/><rect x="290.7" y="251.51" width="11" height="6.03" fill="#FAFA96"/><rect x="290.7" y="257.24" width="11" height="6.03" fill="#FFFFFF"/><rect x="290.7" y="262.96" width="11" height="6.03" fill="#B4F8F8"/><rect x="290.7" y="268.69" width="11" height="6.03" fill="#60C8FA"/><rect x="290.7" y="274.42" width="11" height="6.03" fill="#1428F0"/><rect x="290.7" y="280.15" width="11" height="6.03" fill="#5A14D2"/><rect x="290.7" y="285.87" width="11" height="6.03" fill="#BE14BE"/><rect x="290.7" y="228.6" width="11" height="63" fill="none" stroke="#c4c4c4" stroke-width="0.6"/><text x="305.1" y="233.6" font-size="12.50" text-anchor="start" font-weight="normal" fill="#000" >10</text><text x="305.1" y="264.4" font-size="12.50" text-anchor="start" font-weight="normal" fill="#000" >0</text><text x="304.8" y="296.6" font-size="12.50" text-anchor="start" font-weight="normal" fill="#000" >-<tspan dx="-1">10</tspan></text></g><line x1="409.5" y1="199.0" x2="409.5" y2="321.6" stroke="#f5f7f9" stroke-width="0.7"/><line x1="418.6" y1="199.0" x2="418.6" y2="321.6" stroke="#eef1f5" stroke-width="0.7"/><line x1="427.8" y1="199.0" x2="427.8" y2="321.6" stroke="#f5f7f9" stroke-width="0.7"/><line x1="437.0" y1="199.0" x2="437.0" y2="321.6" stroke="#eef1f5" stroke-width="0.7"/><line x1="446.2" y1="199.0" x2="446.2" y2="321.6" stroke="#f5f7f9" stroke-width="0.7"/><line x1="455.3" y1="199.0" x2="455.3" y2="321.6" stroke="#eef1f5" stroke-width="0.7"/><line x1="464.5" y1="199.0" x2="464.5" y2="321.6" stroke="#f5f7f9" stroke-width="0.7"/><line x1="473.7" y1="199.0" x2="473.7" y2="321.6" stroke="#eef1f5" stroke-width="0.7"/><line x1="482.9" y1="199.0" x2="482.9" y2="321.6" stroke="#f5f7f9" stroke-width="0.7"/><line x1="492.0" y1="199.0" x2="492.0" y2="321.6" stroke="#eef1f5" stroke-width="0.7"/><line x1="501.2" y1="199.0" x2="501.2" y2="321.6" stroke="#f5f7f9" stroke-width="0.7"/><line x1="510.4" y1="199.0" x2="510.4" y2="321.6" stroke="#eef1f5" stroke-width="0.7"/><line x1="519.6" y1="199.0" x2="519.6" y2="321.6" stroke="#f5f7f9" stroke-width="0.7"/><line x1="528.7" y1="199.0" x2="528.7" y2="321.6" stroke="#eef1f5" stroke-width="0.7"/><line x1="537.9" y1="199.0" x2="537.9" y2="321.6" stroke="#f5f7f9" stroke-width="0.7"/><line x1="547.1" y1="199.0" x2="547.1" y2="321.6" stroke="#eef1f5" stroke-width="0.7"/><line x1="556.2" y1="199.0" x2="556.2" y2="321.6" stroke="#f5f7f9" stroke-width="0.7"/><line x1="565.4" y1="199.0" x2="565.4" y2="321.6" stroke="#eef1f5" stroke-width="0.7"/><line x1="574.6" y1="199.0" x2="574.6" y2="321.6" stroke="#f5f7f9" stroke-width="0.7"/><line x1="583.8" y1="199.0" x2="583.8" y2="321.6" stroke="#eef1f5" stroke-width="0.7"/><line x1="592.9" y1="199.0" x2="592.9" y2="321.6" stroke="#f5f7f9" stroke-width="0.7"/><line x1="602.1" y1="199.0" x2="602.1" y2="321.6" stroke="#eef1f5" stroke-width="0.7"/><line x1="611.3" y1="199.0" x2="611.3" y2="321.6" stroke="#f5f7f9" stroke-width="0.7"/><line x1="620.5" y1="199.0" x2="620.5" y2="321.6" stroke="#eef1f5" stroke-width="0.7"/><line x1="629.6" y1="199.0" x2="629.6" y2="321.6" stroke="#f5f7f9" stroke-width="0.7"/><line x1="638.8" y1="199.0" x2="638.8" y2="321.6" stroke="#eef1f5" stroke-width="0.7"/><line x1="648.0" y1="199.0" x2="648.0" y2="321.6" stroke="#f5f7f9" stroke-width="0.7"/><line x1="657.2" y1="199.0" x2="657.2" y2="321.6" stroke="#eef1f5" stroke-width="0.7"/><line x1="666.3" y1="199.0" x2="666.3" y2="321.6" stroke="#f5f7f9" stroke-width="0.7"/><line x1="400.3" y1="206.7" x2="675.5" y2="206.7" stroke="#f5f7f9" stroke-width="0.7"/><line x1="400.3" y1="214.3" x2="675.5" y2="214.3" stroke="#eef1f5" stroke-width="0.7"/><line x1="400.3" y1="222.0" x2="675.5" y2="222.0" stroke="#f5f7f9" stroke-width="0.7"/><line x1="400.3" y1="229.7" x2="675.5" y2="229.7" stroke="#eef1f5" stroke-width="0.7"/><line x1="400.3" y1="237.3" x2="675.5" y2="237.3" stroke="#f5f7f9" stroke-width="0.7"/><line x1="400.3" y1="245.0" x2="675.5" y2="245.0" stroke="#eef1f5" stroke-width="0.7"/><line x1="400.3" y1="252.6" x2="675.5" y2="252.6" stroke="#f5f7f9" stroke-width="0.7"/><line x1="400.3" y1="260.3" x2="675.5" y2="260.3" stroke="#eef1f5" stroke-width="0.7"/><line x1="400.3" y1="268.0" x2="675.5" y2="268.0" stroke="#f5f7f9" stroke-width="0.7"/><line x1="400.3" y1="275.6" x2="675.5" y2="275.6" stroke="#eef1f5" stroke-width="0.7"/><line x1="400.3" y1="283.3" x2="675.5" y2="283.3" stroke="#f5f7f9" stroke-width="0.7"/><line x1="400.3" y1="291.0" x2="675.5" y2="291.0" stroke="#eef1f5" stroke-width="0.7"/><line x1="400.3" y1="298.6" x2="675.5" y2="298.6" stroke="#f5f7f9" stroke-width="0.7"/><line x1="400.3" y1="306.3" x2="675.5" y2="306.3" stroke="#eef1f5" stroke-width="0.7"/><line x1="400.3" y1="313.9" x2="675.5" y2="313.9" stroke="#f5f7f9" stroke-width="0.7"/><line x1="400.3" y1="199.0" x2="675.5" y2="199.0" stroke="#d0d0d0"/><line x1="400.3" y1="321.6" x2="675.5" y2="321.6" stroke="#b0b0b0"/><line x1="400.3" y1="199.0" x2="400.3" y2="321.6" stroke="#8cc0e4"/><line x1="675.5" y1="199.0" x2="675.5" y2="321.6" stroke="#9a9a9a"/><line x1="418.6" y1="321.6" x2="418.6" y2="318.8" stroke="#9a9a9a" stroke-width="0.8"/><line x1="418.6" y1="199.0" x2="418.6" y2="201.8" stroke="#c8c8c8" stroke-width="0.8"/><text x="417.9" y="338.2" font-size="12.50" text-anchor="middle" font-weight="normal" fill="#000" >140</text><line x1="455.3" y1="321.6" x2="455.3" y2="318.8" stroke="#9a9a9a" stroke-width="0.8"/><line x1="455.3" y1="199.0" x2="455.3" y2="201.8" stroke="#c8c8c8" stroke-width="0.8"/><text x="454.6" y="338.2" font-size="12.50" text-anchor="middle" font-weight="normal" fill="#000" >160</text><line x1="492.0" y1="321.6" x2="492.0" y2="318.8" stroke="#9a9a9a" stroke-width="0.8"/><line x1="492.0" y1="199.0" x2="492.0" y2="201.8" stroke="#c8c8c8" stroke-width="0.8"/><text x="491.3" y="338.2" font-size="12.50" text-anchor="middle" font-weight="normal" fill="#000" >180</text><line x1="528.7" y1="321.6" x2="528.7" y2="318.8" stroke="#9a9a9a" stroke-width="0.8"/><line x1="528.7" y1="199.0" x2="528.7" y2="201.8" stroke="#c8c8c8" stroke-width="0.8"/><text x="528.0" y="338.2" font-size="12.50" text-anchor="middle" font-weight="normal" fill="#000" >200</text><line x1="565.4" y1="321.6" x2="565.4" y2="318.8" stroke="#9a9a9a" stroke-width="0.8"/><line x1="565.4" y1="199.0" x2="565.4" y2="201.8" stroke="#c8c8c8" stroke-width="0.8"/><text x="564.7" y="338.2" font-size="12.50" text-anchor="middle" font-weight="normal" fill="#000" >220</text><line x1="602.1" y1="321.6" x2="602.1" y2="318.8" stroke="#9a9a9a" stroke-width="0.8"/><line x1="602.1" y1="199.0" x2="602.1" y2="201.8" stroke="#c8c8c8" stroke-width="0.8"/><text x="601.4" y="338.2" font-size="12.50" text-anchor="middle" font-weight="normal" fill="#000" >240</text><line x1="638.8" y1="321.6" x2="638.8" y2="318.8" stroke="#9a9a9a" stroke-width="0.8"/><line x1="638.8" y1="199.0" x2="638.8" y2="201.8" stroke="#c8c8c8" stroke-width="0.8"/><text x="638.1" y="338.2" font-size="12.50" text-anchor="middle" font-weight="normal" fill="#000" >260</text><line x1="675.5" y1="321.6" x2="675.5" y2="318.8" stroke="#9a9a9a" stroke-width="0.8"/><line x1="675.5" y1="199.0" x2="675.5" y2="201.8" stroke="#c8c8c8" stroke-width="0.8"/><text x="674.8" y="338.2" font-size="12.50" text-anchor="middle" font-weight="normal" fill="#000" >280</text><line x1="400.3" y1="199.0" x2="403.1" y2="199.0" stroke="#8cc0e4" stroke-width="0.8"/><text x="395.3" y="203.7" font-size="12.50" text-anchor="end" font-weight="normal" fill="#0072BD" >15</text><line x1="400.3" y1="229.7" x2="403.1" y2="229.7" stroke="#8cc0e4" stroke-width="0.8"/><text x="395.3" y="234.3" font-size="12.50" text-anchor="end" font-weight="normal" fill="#0072BD" >10</text><line x1="400.3" y1="260.3" x2="403.1" y2="260.3" stroke="#8cc0e4" stroke-width="0.8"/><text x="395.3" y="265.0" font-size="12.50" text-anchor="end" font-weight="normal" fill="#0072BD" >5</text><line x1="400.3" y1="291.0" x2="403.1" y2="291.0" stroke="#8cc0e4" stroke-width="0.8"/><text x="395.3" y="295.7" font-size="12.50" text-anchor="end" font-weight="normal" fill="#0072BD" >0</text><line x1="400.3" y1="321.6" x2="403.1" y2="321.6" stroke="#8cc0e4" stroke-width="0.8"/><text x="395.3" y="326.3" font-size="12.50" text-anchor="end" font-weight="normal" fill="#0072BD" >-5</text><line x1="675.5" y1="199.0" x2="672.7" y2="199.0" stroke="#9a9a9a" stroke-width="0.8"/><text x="679.3" y="203.7" font-size="12.50" text-anchor="start" font-weight="normal" fill="#000" >4</text><line x1="675.5" y1="229.7" x2="672.7" y2="229.7" stroke="#9a9a9a" stroke-width="0.8"/><text x="679.3" y="234.3" font-size="12.50" text-anchor="start" font-weight="normal" fill="#000" >2</text><line x1="675.5" y1="260.3" x2="672.7" y2="260.3" stroke="#9a9a9a" stroke-width="0.8"/><text x="679.3" y="265.0" font-size="12.50" text-anchor="start" font-weight="normal" fill="#000" >0</text><line x1="675.5" y1="291.0" x2="672.7" y2="291.0" stroke="#9a9a9a" stroke-width="0.8"/><text x="679.3" y="295.7" font-size="12.50" text-anchor="start" font-weight="normal" fill="#000" >-2</text><line x1="675.5" y1="321.6" x2="672.7" y2="321.6" stroke="#9a9a9a" stroke-width="0.8"/><text x="679.3" y="326.3" font-size="12.50" text-anchor="start" font-weight="normal" fill="#000" >-4</text><svg x="399.3" y="199.0" width="277.2" height="122.6" viewBox="399.3 199.0 277.2 122.6" overflow="hidden"><polyline points="400.1,258.7 407.0,252.4 415.9,249.8 421.3,252.3 424.9,254.3 434.7,267.8 437.4,260.6 441.0,259.7 443.7,272.2 446.4,267.8 449.9,264.2 455.3,257.9 462.5,256.1 469.6,251.6 476.8,248.1 482.2,246.3 486.7,242.7 492.9,246.3 498.3,249.9 503.7,250.7 510.8,257.9 519.8,268.7 524.5,269.3 529.9,274.2 532.5,272.4 535.2,272.9 539.7,277.8 543.3,280.4 546.9,284.9 550.4,288.0 553.1,285.8 555.8,286.7 563.0,292.1 566.6,293.0 570.2,292.1 573.7,292.1 580.9,284.0 584.5,282.6 588.1,277.8 590.7,276.9 595.2,278.3 600.6,275.1 609.6,271.1 617.6,267.0 620.3,260.7 623.0,250.0 624.8,246.9 627.5,243.0 630.2,241.6 634.6,229.9 637.3,226.9 643.6,225.8 645.5,225.1 649.6,219.8 652.1,217.3 654.6,228.4 659.5,227.2 663.7,224.7 667.0,218.9 670.3,209.0 673.3,213.2 675.3,239.6 675.6,252.4" fill="none" stroke="#000" stroke-width="1.9" stroke-linejoin="round" stroke-linecap="butt"/><polyline points="400.1,288.2 405.2,290.0 410.5,294.0 415.9,296.6 424.9,297.0 430.2,295.8 434.2,294.7 438.3,302.2 441.0,302.2 443.7,296.5 447.3,299.2 449.9,299.2 455.3,304.0 460.7,306.9 465.2,307.8 469.6,306.9 476.8,304.2 481.3,304.7 485.8,302.9 494.7,297.0 505.5,292.5 516.2,289.0 520.0,288.5 527.2,287.6 534.3,285.8 539.7,282.2 545.1,278.7 550.4,273.3 556.7,268.8 563.0,260.7 566.6,256.5 570.2,254.3 577.3,245.2 582.7,238.0 587.2,234.4 595.2,225.4 606.0,213.5 613.1,208.2 617.6,206.0 621.2,206.0 629.3,209.3 634.6,216.0 639.7,225.6 644.7,236.3 648.8,244.6 651.3,247.4 655.4,251.6 660.4,258.5 665.3,256.5 670.3,255.2 673.6,261.5 675.6,268.1" fill="none" stroke="#0000ff" stroke-width="1.9" stroke-linejoin="round" stroke-linecap="butt"/><polyline points="400.1,288.0 405.2,288.5 412.3,290.8 419.5,293.5 428.4,295.7 433.8,297.6 438.3,302.5 441.5,302.8 443.7,300.8 449.9,301.6 457.1,303.6 463.8,304.9 469.6,302.2 476.8,298.2 481.8,298.8 487.6,294.7 494.7,292.0 505.0,289.8 512.6,291.7 520.0,292.6 529.0,293.0 536.1,290.8 543.3,289.0 548.7,286.7 555.8,281.3 563.0,274.2 568.4,267.9 573.7,261.6 577.3,256.3 580.0,249.6 586.3,240.7 595.2,230.8 604.2,219.2 613.1,211.2 618.7,207.8 623.1,202.7 627.0,201.2 632.9,202.8 636.8,206.5 641.5,215.6 646.0,225.5 651.3,233.0 656.2,241.3 660.4,244.8 664.5,242.3 669.5,234.7 672.8,241.5 675.3,258.2 675.6,264.8" fill="none" stroke="#ff0000" stroke-width="1.9" stroke-linejoin="round" stroke-linecap="butt"/></svg><rect x="410.3" y="204.5" width="67" height="30.2" fill="#fff" stroke="#5a5a5a" stroke-width="0.7"/><line x1="412.2" y1="212.1" x2="424.8" y2="212.1" stroke="#0000ff" stroke-width="1.9"/><line x1="412.2" y1="227.1" x2="424.8" y2="227.1" stroke="#ff0000" stroke-width="1.9"/><text x="426.3" y="216.4" font-size="11.50" text-anchor="start" font-weight="normal" fill="#000" >Control</text><text x="426.3" y="231.3" font-size="11.50" text-anchor="start" font-weight="normal" fill="#000" >AMOC off</text><text x="523.9" y="191.9" font-size="13.75" text-anchor="middle" font-weight="bold" fill="#000" >Mean upward LH flux per degree of Nino 3 between +/- 5oN</text><text x="537.0" y="360.1" font-size="13.75" text-anchor="middle" font-weight="normal" fill="#000" >Longitude ( <tspan font-size="10.5" dy="-6.4">o</tspan><tspan dy="6.4" dx="1.2">E)</tspan></text><text transform="translate(705.8,262) rotate(-90)" font-size="13.75" text-anchor="middle">anom</text></svg></body></html>
